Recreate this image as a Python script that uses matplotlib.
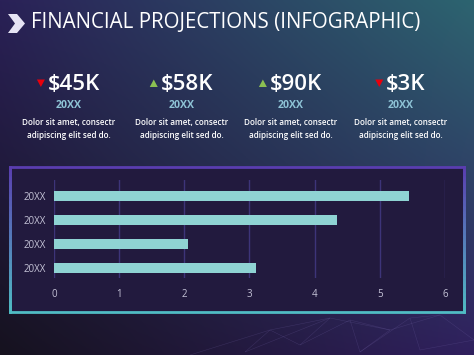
import numpy as np
import matplotlib.pyplot as plt
from matplotlib.patches import Rectangle, Polygon
from matplotlib.collections import LineCollection
from matplotlib.colors import to_rgb

plt.rcParams['font.family'] = ['Open Sans', 'DejaVu Sans']

W, H = 474, 355
dpi = 100

title = "FINANCIAL PROJECTIONS (INFOGRAPHIC)"
kpi_values = ["$45K", "$58K", "$90K", "$3K"]
kpi_trend = ["down", "up", "up", "down"]
kpi_years = ["20XX", "20XX", "20XX", "20XX"]
kpi_text = "Dolor sit amet, consectr\nadipiscing elit sed do."

# bars listed bottom -> top
bar_labels = ["20XX", "20XX", "20XX", "20XX"]
bar_values = [3.1, 2.05, 4.35, 5.45]

fig = plt.figure(figsize=(W / dpi, H / dpi), dpi=dpi)

# background gradient
bg = fig.add_axes([0, 0, 1, 1])
bg.set_axis_off()
yy, xx = np.mgrid[0:1:200j, 0:1:260j]
tl = np.array(to_rgb("#2a2157"))
tr = np.array(to_rgb("#2d6470"))
bl = np.array(to_rgb("#16121f"))
br = np.array(to_rgb("#30205e"))
img = (tl[None, None] * ((1 - xx) * (1 - yy))[..., None]
       + tr[None, None] * (xx * (1 - yy))[..., None]
       + bl[None, None] * ((1 - xx) * yy)[..., None]
       + br[None, None] * (xx * yy)[..., None])
bg.imshow(img, extent=[0, W, H, 0], aspect='auto')
bg.set_xlim(0, W)
bg.set_ylim(H, 0)

# faint network lines bottom right
pts = np.array([[190, 355], [270, 330], [330, 318], [390, 330], [440, 315], [474, 340],
                [300, 345], [360, 352], [420, 350], [350, 320], [410, 318], [245, 352]])
segs = [[pts[a], pts[b]] for a, b in [(0, 1), (1, 2), (2, 3), (3, 4), (4, 5), (6, 2),
                                      (6, 9), (9, 3), (3, 7), (7, 10), (10, 4), (10, 8),
                                      (8, 5), (9, 7), (11, 1), (1, 6), (11, 2)]]
bg.add_collection(LineCollection(segs, colors="#7a6ab0", linewidths=0.4, alpha=0.25))

# chevron
bg.add_patch(Polygon([[8, 14], [17, 14], [25, 23.5], [17, 33], [8, 33], [15, 23.5]],
                     closed=True, color="#e6e4f4", lw=0))
bg.text(31, 22, title, color="white", fontsize=14.8, va="center", ha="left")

# KPI blocks
centers = [69, 182, 291, 401]
fig.canvas.draw()
rend = fig.canvas.get_renderer()
for cx, val, tr_, yr in zip(centers, kpi_values, kpi_trend, kpi_years):
    t = bg.text(cx + 5, 84, val, color="white", fontsize=16, fontweight="semibold",
                va="center", ha="center")
    bb = t.get_window_extent(renderer=rend)
    x0 = bb.x0 - 3
    if tr_ == "down":
        tri = [[x0 - 8, 79.5], [x0, 79.5], [x0 - 4, 87]]
        col = "#e8000c"
    else:
        tri = [[x0 - 8, 87], [x0, 87], [x0 - 4, 79.5]]
        col = "#8cc152"
    bg.add_patch(Polygon(tri, closed=True, color=col, lw=0))
    bg.text(cx, 106, yr, color="#8ec3d6", fontsize=7.6, fontweight="bold",
            va="center", ha="center")
    bg.text(cx, 129, kpi_text, color="white", fontsize=5.9, fontweight="semibold",
            va="center", ha="center", linespacing=1.5)

# chart frame
fx0, fx1, fy0, fy1 = 10, 464, 167, 312
bg.add_patch(Rectangle((fx0, fy0), fx1 - fx0, fy1 - fy0, facecolor="#221a3e", lw=0))
top_c = np.array(to_rgb("#5a3db0"))
bot_c = np.array(to_rgb("#50bcc4"))
n = 60
ys = np.linspace(fy0, fy1, n + 1)
side_segs, side_cols = [], []
for i in range(n):
    f = (i + 0.5) / n
    c = top_c * (1 - f) + bot_c * f
    side_segs += [[(fx0, ys[i]), (fx0, ys[i + 1])], [(fx1, ys[i]), (fx1, ys[i + 1])]]
    side_cols += [c, c]
side_segs += [[(fx0, fy0), (fx1, fy0)], [(fx0, fy1), (fx1, fy1)]]
side_cols += [top_c, bot_c]
bg.add_collection(LineCollection(side_segs, colors=side_cols, linewidths=2.0,
                                 capstyle="projecting"))

# bar chart
ax = fig.add_axes([54 / W, 1 - 278 / H, (445 - 54) / W, (278 - 180) / H])
ax.set_facecolor("none")
ypos = np.arange(len(bar_values))
ax.barh(ypos, bar_values, height=0.42, color="#8fd3d3", zorder=3)
ax.set_xlim(0, 6)
ax.set_ylim(-0.42, 3.67)
ax.set_xticks(range(7))
ax.set_yticks(ypos)
ax.set_yticklabels(bar_labels)
ax.grid(axis="x", color="#3d3479", lw=1.0, zorder=0)
ax.grid(axis="y", visible=False)
for s in ax.spines.values():
    s.set_visible(False)
ax.tick_params(axis="both", length=0, labelsize=7, colors="#c4c2d6")
ax.tick_params(axis="x", pad=8)
ax.tick_params(axis="y", pad=6)

fig.savefig("out.png", dpi=dpi)
